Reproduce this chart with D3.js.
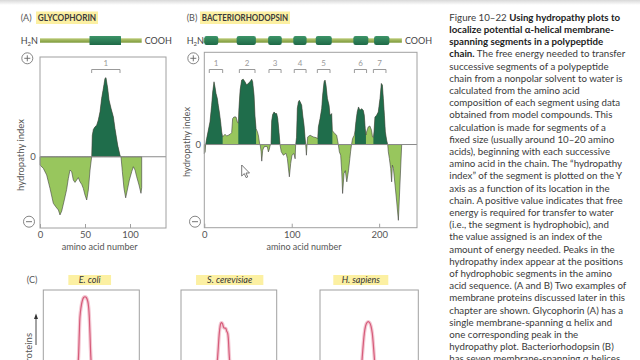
<!DOCTYPE html>
<html><head><meta charset="utf-8">
<script src="https://cdn.jsdelivr.net/npm/d3@7"></script>
<style>
html,body{margin:0;padding:0;background:#fff;}
svg{display:block;}
text{font-family:Lato,"Open Sans",sans-serif;}
</style></head><body>
<svg id="c" width="640" height="360"></svg>
<script>
// ---------- DATA ----------
// Glycophorin hydropathy trace: [amino acid number, hydropathy index]
const glycoData = [[0,-0.35],[3.7,-0.49],[7.4,-0.77],[11.1,-1.33],[14.8,-1.96],[17.4,-2.1],[20.4,-2.24],[22.2,-2.45],[24.1,-2.29],[27,-1.82],[29.6,-1.38],[31.5,-0.91],[33.3,-0.56],[35.2,-0.63],[37,-0.98],[38.9,-1.08],[40.7,-0.98],[42.6,-0.88],[44.4,-1.05],[46.3,-1.16],[48.1,-1.33],[50,-1.61],[51.9,-1.82],[53.7,-1.4],[55.6,-0.56],[57.4,0],[58.1,0.9],[59.3,1.15],[61.1,1.26],[63,1.33],[64.8,1.55],[66.7,1.89],[68.5,2.46],[70.4,2.88],[72.2,3.3],[73.3,3.33],[75.2,2.88],[76.7,2.39],[78.9,2.04],[81.5,1.68],[83.3,1.19],[86.3,0.49],[88.9,0.06],[90,0],[91.5,-0.63],[93.3,-1.33],[95.2,-1.73],[97,-1.4],[99.3,-0.98],[101.9,-0.63],[103.7,-0.42],[105.6,-0.56],[107.4,-0.84],[110,-1.19],[112.2,-1.54],[113,-1.3]];
const glycoHydrophobic = [[57.4, 90]];
const glycoBrackets = [[57.4, 88.9]];
const glycoHelix = [[55, 90]];
const glycoChain = [0, 113];
const glycoTicks = [0, 50, 100];

// Bacteriorhodopsin hydropathy trace
const bacterioData = [[0,-0.38],[1,-0.31],[1.5,0],[2.7,0.25],[4.6,0.6],[6.5,0.95],[8.4,1.65],[9.6,2.21],[11.1,2.64],[12.2,2.43],[13.4,2.15],[14.9,1.94],[16,1.65],[17.2,1.37],[18.7,0.95],[19.9,0.53],[21,0.32],[21.8,0.36],[23.7,0.43],[25.6,0.36],[27.5,0.39],[29.4,0.43],[31.3,0.5],[32.4,1.09],[33.9,1.16],[36.3,1.16],[37.8,0.95],[38.9,0.9],[39.6,1.5],[41,2.3],[42.7,2.71],[44.5,2.75],[46.5,2.64],[48.5,2.5],[50.4,2.58],[52.3,2.64],[54.2,2.75],[55.3,2.64],[56.9,2.08],[58,1.2],[59.2,0.67],[60.8,0.53],[62,0.36],[63.2,0.05],[63.9,0],[65,-0.31],[65.7,-0.7],[66.8,-0.24],[68.3,-0.1],[70.6,-0.08],[72.1,-0.1],[73.3,-0.31],[74.4,-0.2],[75.2,-0.05],[76.3,0],[77.1,1.0],[78.2,1.26],[79.8,1.37],[81.3,1.3],[82.8,1.3],[84,1.09],[85.1,0.67],[86.6,0],[88,-0.3],[90.4,-0.45],[93.5,-0.37],[95,-0.59],[97.3,-1.36],[98.8,-0.8],[100.3,-0.45],[102.5,-0.38],[103.9,-0.6],[104.5,0],[105.5,0.3],[106.4,1.52],[107.6,1.79],[108.7,1.86],[110.3,1.75],[111.4,1.65],[112.6,1.23],[114.1,0.81],[115.2,0.32],[116,0],[116.8,-0.45],[117.5,0],[118.3,0.32],[121,0.39],[124.7,0.32],[127.8,0.29],[129.7,0.25],[130.5,0.74],[132.4,1.09],[134.3,1.52],[135.4,2.08],[137,2.64],[138.1,2.71],[139.2,2.5],[140.8,1.94],[142.7,1.65],[143.8,1.23],[145.7,1.3],[146.5,0.6],[147.6,0.53],[149.5,0.45],[151.4,0.39],[153.3,0],[154.5,-0.31],[156,-0.45],[157.2,-1.15],[158.2,-2.06],[159.8,-1.22],[161.3,-1.1],[163,-1.57],[165,-1.08],[166.5,-0.59],[167.3,-0.31],[168.4,0],[169.6,0.25],[171.5,0.39],[172.5,0.6],[173.4,0.95],[174.9,1.37],[176.4,1.58],[178,1.44],[179.9,1.51],[181.8,1.44],[183,1.23],[184.1,0.67],[184.9,0.4],[185.6,0.53],[187.5,0.74],[189.4,0.78],[191.3,0.6],[192.4,0.32],[193.4,0.3],[194.1,0.53],[195.2,1.16],[197.1,1.23],[199,1.37],[201,1.94],[202.5,2.57],[203.7,2.5],[204.8,1.94],[206,1.23],[207.1,0.53],[208.6,0.18],[209.8,0],[210.5,-0.31],[211.7,-0.59],[213.2,-1.01],[214.3,-1.57],[215.1,-0.87],[216.3,-1.0],[218.2,-1.71],[220.1,-2.42],[222,-3.19],[225.8,0]];
const bacterioHydrophobic = [[1.5,21],[38.9,59.2],[76.3,86.6],[104.5,116],[129.7,146.5],[172.3,184.9],[193.4,209.8]];
const bacterioBrackets = [[5.7,21],[40.1,58],[74,87.8],[102.9,116.4],[129.3,143.8],[171.7,185.6],[193.4,207.8]];
const bacterioHelix = [[0,16],[37,59],[73,88.6],[101.8,117],[127.5,145.8],[170.5,187.6],[194.2,211.7]];
const bacterioChain = [-1, 226];
const bacterioTicks = [0, 100, 200];

// Panel C distributions
const cPanels = ["E. coli", "S. cerevisiae", "H. sapiens"];
const ecoliCurve = [[20,0],[25.7,6.7],[33,26.7],[36.5,53.3],[37.5,71.1],[38.2,82.2],[39.2,88],[40.5,92.5],[42,95],[43.4,95.5],[44.8,95],[46.3,92.5],[47.3,88],[47.9,82.2],[48.6,71.1],[49.7,53.3],[52.8,26.7],[61,6.7],[67,0]];
const yeastCurve = [[20,0],[27,6.7],[34.5,26.7],[38.3,55.5],[40,71.1],[40.8,75.5],[41.6,77.8],[42.5,78.2],[43.4,77.5],[44.3,75.5],[45.2,74.6],[46.7,74.5],[47.8,72.5],[48.8,71.1],[50.5,55.5],[54,26.7],[62,6.7],[68,0]];
const humanCurve = [[25,0],[33,6.7],[40,26.7],[43,55.5],[45.1,71.1],[46.2,75.5],[47.5,78],[49.1,78.9],[50.7,78],[52,75.5],[53.2,71.1],[55.2,55.5],[58.5,26.7],[66,6.7],[73,0]];

// Caption
const captionLines = [
  [["Figure 10–22 ",0],["Using hydropathy plots to",1]],
  [["localize potential α-helical membrane-",1]],
  [["spanning segments in a polypeptide",1]],
  [["chain.",1],[" The free energy needed to transfer",0]],
  [["successive segments of a polypeptide",0]],
  [["chain from a nonpolar solvent to water is",0]],
  [["calculated from the amino acid",0]],
  [["composition of each segment using data",0]],
  [["obtained from model compounds. This",0]],
  [["calculation is made for segments of a",0]],
  [["fixed size (usually around 10–20 amino",0]],
  [["acids), beginning with each successive",0]],
  [["amino acid in the chain. The “hydropathy",0]],
  [["index” of the segment is plotted on the Y",0]],
  [["axis as a function of its location in the",0]],
  [["chain. A positive value indicates that free",0]],
  [["energy is required for transfer to water",0]],
  [["(i.e., the segment is hydrophobic), and",0]],
  [["the value assigned is an index of the",0]],
  [["amount of energy needed. Peaks in the",0]],
  [["hydropathy index appear at the positions",0]],
  [["of hydrophobic segments in the amino",0]],
  [["acid sequence. (A and B) Two examples of",0]],
  [["membrane proteins discussed later in this",0]],
  [["chapter are shown. Glycophorin (A) has a",0]],
  [["single membrane-spanning α helix and",0]],
  [["one corresponding peak in the",0]],
  [["hydropathy plot. Bacteriorhodopsin (B)",0]],
  [["has seven membrane-spanning α helices",0]]
];

// ---------- DRAWING ----------
const svg = d3.select("#c");
const LIGHT="#98c65d", DARK="#1f6d4b", TRACE="#404040", FRAME="#a0a0a0", LAB="#555";
const defs = svg.append("defs");
const tg = defs.append("linearGradient").attr("id","topfade").attr("x1",0).attr("x2",0).attr("y1",0).attr("y2",1);
tg.append("stop").attr("offset",0).attr("stop-color","#d8d8d8");
tg.append("stop").attr("offset",1).attr("stop-color","#ffffff");
svg.append("rect").attr("x",0).attr("y",0).attr("width",640).attr("height",5).attr("fill","url(#topfade)");
const bg = defs.append("linearGradient").attr("id","thin").attr("x1",0).attr("x2",0).attr("y1",0).attr("y2",1);
bg.append("stop").attr("offset",0).attr("stop-color","#bccb78");
bg.append("stop").attr("offset",1).attr("stop-color","#7a9838");
const hg = defs.append("linearGradient").attr("id","thick").attr("x1",0).attr("x2",0).attr("y1",0).attr("y2",1);
hg.append("stop").attr("offset",0).attr("stop-color","#3d9468");
hg.append("stop").attr("offset",1).attr("stop-color","#1f6a47");

function hydroPanel(o){
  const x=o.x, y=o.y, g=svg.append("g");
  const [x0,x1]=x.range(), yb=y.range()[0], yt=y.range()[1];
  const area=d3.area().x(d=>x(d[0])).y0(y(0)).y1(d=>y(d[1]));
  g.append("path").datum(o.data).attr("d",area).attr("fill",LIGHT);
  o.dark.forEach((r,i)=>{
    const cid=o.id+"c"+i;
    defs.append("clipPath").attr("id",cid).append("rect")
      .attr("x",x(r[0])).attr("width",x(r[1])-x(r[0])).attr("y",yt).attr("height",y(0)-yt);
    g.append("path").datum(o.data).attr("d",area).attr("fill",DARK).attr("clip-path",`url(#${cid})`);
  });
  g.append("path").datum(o.data).attr("d",area).attr("fill","none").attr("stroke",TRACE).attr("stroke-width",0.6);
  g.append("line").attr("x1",x0).attr("x2",x1).attr("y1",y(0)).attr("y2",y(0)).attr("stroke","#8a8a8a").attr("stroke-width",1);
  g.append("rect").attr("x",x0).attr("y",yt).attr("width",x1-x0).attr("height",yb-yt)
    .attr("fill","none").attr("stroke",FRAME).attr("stroke-width",1);
  const ax=d3.axisBottom(x).tickValues(o.ticks).tickSizeInner(-4).tickSizeOuter(0).tickPadding(3.5);
  const ga=g.append("g").attr("transform",`translate(0,${yb})`).call(ax);
  ga.select(".domain").remove();
  ga.attr("font-family","Lato, sans-serif").attr("font-size",9.5);
  ga.selectAll("line").attr("stroke",FRAME);
  ga.selectAll("text").attr("fill",LAB);
  // brackets
  const bk=g.selectAll(".bk").data(o.brackets).enter().append("g");
  bk.append("path").attr("d",d=>`M${x(d[0])},73 V69.5 H${x(d[1])} V73`).attr("fill","none").attr("stroke","#8f8f8f").attr("stroke-width",0.9);
  bk.append("text").attr("x",d=>(x(d[0])+x(d[1]))/2).attr("y",65.5).attr("text-anchor","middle")
    .attr("font-size",8).attr("fill","#9a9a9a").text((d,i)=>i+1);
  // zero label
  g.append("text").attr("x",o.zeroX).attr("y",y(0)).attr("dy","0.35em").attr("text-anchor","middle")
    .attr("font-size",9.5).attr("fill",LAB).text("0");
  // y label
  g.append("text").attr("transform",`translate(${o.ylabX},${o.ylabY}) rotate(-90)`).attr("dy","0.35em")
    .attr("text-anchor","middle").attr("font-size",9.5).attr("fill",LAB)
    .attr("textLength",o.ylabLen).attr("lengthAdjust","spacingAndGlyphs").text("hydropathy index");
  g.append("text").attr("x",o.xlabX).attr("y",250).attr("text-anchor","middle").attr("font-size",9.5).attr("fill",LAB)
    .attr("textLength",o.xlabLen).attr("lengthAdjust","spacingAndGlyphs").text("amino acid number");
  // plus / minus circles
  [[o.plus,"+"],[o.minus,"-"]].forEach(([p,s])=>{
    g.append("circle").attr("cx",p[0]).attr("cy",p[1]).attr("r",5.5).attr("fill","#fff").attr("stroke","#777").attr("stroke-width",0.9);
    g.append("line").attr("x1",p[0]-3).attr("x2",p[0]+3).attr("y1",p[1]).attr("y2",p[1]).attr("stroke","#666").attr("stroke-width",0.9);
    if(s==="+") g.append("line").attr("x1",p[0]).attr("x2",p[0]).attr("y1",p[1]-3).attr("y2",p[1]+3).attr("stroke","#666").attr("stroke-width",0.9);
  });
  // helix bar
  const cy=40.5;
  g.append("rect").attr("x",x(o.chain[0])).attr("width",x(o.chain[1])-x(o.chain[0])).attr("y",cy-2.2).attr("height",4.4).attr("fill","url(#thin)");
  g.selectAll(".hx").data(o.helix).enter().append("rect").attr("x",d=>x(d[0])).attr("width",d=>x(d[1])-x(d[0]))
    .attr("y",cy-4.5).attr("height",9).attr("rx",o.rx).attr("fill","url(#thick)");
  const h=g.append("text").attr("x",o.h2nX).attr("y",cy+3.3).attr("font-size",9).attr("fill","#444");
  h.append("tspan").text("H");
  h.append("tspan").attr("font-size",6).attr("dy",2).text("2");
  h.append("tspan").attr("dy",-2).text("N");
  g.append("text").attr("x",x(o.chain[1])+3).attr("y",cy+3.3).attr("font-size",9).attr("fill","#444").text("COOH");
  // title
  g.append("rect").attr("x",o.hlX).attr("width",o.hlW).attr("y",11.5).attr("height",12.5).attr("fill","#fcf0a2");
  g.append("text").attr("x",o.tagX).attr("y",20.8).attr("font-size",9).attr("fill","#555").text(o.tag);
  g.append("text").attr("x",o.hlX+1.8).attr("y",20.8).attr("font-size",8.6).attr("font-weight",700).attr("fill","#3a3a3a")
    .attr("textLength",o.hlW-3.6).attr("lengthAdjust","spacingAndGlyphs").text(o.title);
}

hydroPanel({id:"A", x:d3.scaleLinear([0,140],[40,166]), y:d3.scaleLinear([-3,4.2],[228,57]),
  data:glycoData, dark:glycoHydrophobic, brackets:glycoBrackets, ticks:glycoTicks, helix:glycoHelix, chain:glycoChain, rx:0.5,
  zeroX:33, ylabX:21, ylabY:155, ylabLen:72, xlabX:99.7, xlabLen:76, plus:[27.3,58.3], minus:[29,221.7],
  h2nX:20.7, hlX:36, hlW:62, tagX:20.7, tag:"(A)", title:"GLYCOPHORIN"});
hydroPanel({id:"B", x:d3.scaleLinear([0,243.3],[204.3,417]), y:d3.scaleLinear([-3.5,3.88],[227.7,52.3]),
  data:bacterioData, dark:bacterioHydrophobic, brackets:bacterioBrackets, ticks:bacterioTicks, helix:bacterioHelix, chain:bacterioChain, rx:2.2,
  zeroX:198.3, ylabX:186.7, ylabY:142, ylabLen:70, xlabX:304, xlabLen:75, plus:[193.3,58.3], minus:[195,221.7],
  h2nX:186.7, hlX:200, hlW:90, tagX:186.7, tag:"(B)", title:"BACTERIORHODOPSIN"});

// cursor artifact
svg.append("path").attr("transform","translate(241.7,165)")
  .attr("d","M0,0 L0,11 L2.6,8.6 L4.4,12.6 L6,11.9 L4.3,8 L7.8,8 Z")
  .attr("fill","#fff").attr("stroke","#555").attr("stroke-width",0.8);

// ---------- Panel C ----------
const cFrames = [[43.3,139.3],[181,276.7],[320,418.3]];
const cCurves = [ecoliCurve, yeastCurve, humanCurve];
const cLabelCenters = [89.7, 229.7, 360.8];
const cLabelWidths = [42.7, 67.3, 55];
const cy = d3.scaleLinear([0,100],[440,290]);
svg.append("text").attr("x",26.7).attr("y",282.5).attr("font-size",9).attr("fill","#555").text("(C)");
cPanels.forEach((name,i)=>{
  const [l,r]=cFrames[i];
  const cx=d3.scaleLinear([0,100],[l,r]);
  const g=svg.append("g");
  const mid=cLabelCenters[i], w=cLabelWidths[i];
  g.append("rect").attr("x",mid-w/2).attr("width",w).attr("y",275).attr("height",10).attr("fill","#fcf0a2");
  g.append("text").attr("x",mid).attr("y",283).attr("text-anchor","middle").attr("font-size",9)
    .attr("font-style","italic").attr("fill","#333").text(name);
  g.append("rect").attr("x",l).attr("y",290).attr("width",r-l).attr("height",120).attr("fill","none").attr("stroke",FRAME).attr("stroke-width",1);
  const line=d3.line().x(d=>cx(d[0])).y(d=>cy(d[1])).curve(d3.curveCatmullRom.alpha(0.5));
  g.append("path").datum(cCurves[i]).attr("d",line).attr("fill","none").attr("stroke","#f4c9d4").attr("stroke-width",3.5);
  g.append("path").datum(cCurves[i]).attr("d",line).attr("fill","none").attr("stroke","#d65c7a").attr("stroke-width",1.2);
});
// C y label + arrow
svg.append("text").attr("transform","translate(32,333) rotate(-90)").attr("text-anchor","end")
  .attr("font-size",9.5).attr("fill","#555").text("number of proteins");
svg.append("line").attr("x1",36).attr("x2",36).attr("y1",318).attr("y2",345).attr("stroke","#333").attr("stroke-width",0.9);
svg.append("path").attr("d","M36,313.5 L34,319 L38,319 Z").attr("fill","#333");

// ---------- Caption ----------
const cap = svg.append("g");
const texts=[];
captionLines.forEach((segs,i)=>{
  const t=cap.append("text").attr("x",0).attr("y",20.9+i*12.2).attr("font-size",10.3).attr("fill","#3a3a3a");
  segs.forEach(([s,b])=>{ const ts=t.append("tspan").text(s); if(b){ts.attr("font-weight",700).attr("fill","#222");} });
  texts.push(t);
});
const wRef = texts[5].node().getComputedTextLength();
const k = 173.4 / wRef;
cap.attr("transform",`translate(449.3,0) scale(${k},1)`);
</script></body></html>
